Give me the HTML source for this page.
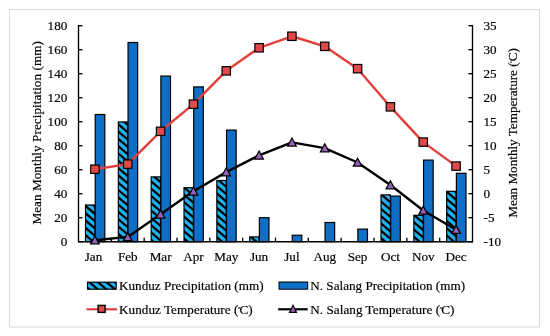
<!DOCTYPE html>
<html><head><meta charset="utf-8"><title>Chart</title>
<style>
html,body{margin:0;padding:0;background:#fff;}
svg{display:block;}
text{stroke:#000;stroke-width:0.18px;font-family:"Liberation Serif","Times New Roman",serif;font-size:13.15px;fill:#000;}
</style></head><body>
<svg width="550" height="336" viewBox="0 0 550 336">
<defs><clipPath id="kclip">
<rect x="85.52" y="204.98" width="9.40" height="36.72"/>
<rect x="118.35" y="121.94" width="9.40" height="119.76"/>
<rect x="151.18" y="176.90" width="9.40" height="64.80"/>
<rect x="184.02" y="187.70" width="9.40" height="54.00"/>
<rect x="216.85" y="180.50" width="9.40" height="61.20"/>
<rect x="249.68" y="236.90" width="9.40" height="4.80"/>
<rect x="381.02" y="194.90" width="9.40" height="46.80"/>
<rect x="413.85" y="215.30" width="9.40" height="26.40"/>
<rect x="446.68" y="191.30" width="9.40" height="50.40"/>
<rect x="87.50" y="282.20" width="28.70" height="7.00"/>
</clipPath></defs>
<rect x="0" y="0" width="550" height="336" fill="#fff"/>
<rect x="9.5" y="9.5" width="530" height="317.5" fill="#fff" stroke="#d9d9d9" stroke-width="1"/>
<rect x="85.52" y="204.98" width="9.40" height="36.72" fill="#1fb0f0"/>
<rect x="118.35" y="121.94" width="9.40" height="119.76" fill="#1fb0f0"/>
<rect x="151.18" y="176.90" width="9.40" height="64.80" fill="#1fb0f0"/>
<rect x="184.02" y="187.70" width="9.40" height="54.00" fill="#1fb0f0"/>
<rect x="216.85" y="180.50" width="9.40" height="61.20" fill="#1fb0f0"/>
<rect x="249.68" y="236.90" width="9.40" height="4.80" fill="#1fb0f0"/>
<rect x="381.02" y="194.90" width="9.40" height="46.80" fill="#1fb0f0"/>
<rect x="413.85" y="215.30" width="9.40" height="26.40" fill="#1fb0f0"/>
<rect x="446.68" y="191.30" width="9.40" height="50.40" fill="#1fb0f0"/>
<rect x="87.50" y="282.20" width="28.70" height="7.00" fill="#1fb0f0"/>
<path clip-path="url(#kclip)" d="M70 -427.80L480 -79.30M70 -420.50L480 -72.00M70 -413.20L480 -64.70M70 -405.90L480 -57.40M70 -398.60L480 -50.10M70 -391.30L480 -42.80M70 -384.00L480 -35.50M70 -376.70L480 -28.20M70 -369.40L480 -20.90M70 -362.10L480 -13.60M70 -354.80L480 -6.30M70 -347.50L480 1.00M70 -340.20L480 8.30M70 -332.90L480 15.60M70 -325.60L480 22.90M70 -318.30L480 30.20M70 -311.00L480 37.50M70 -303.70L480 44.80M70 -296.40L480 52.10M70 -289.10L480 59.40M70 -281.80L480 66.70M70 -274.50L480 74.00M70 -267.20L480 81.30M70 -259.90L480 88.60M70 -252.60L480 95.90M70 -245.30L480 103.20M70 -238.00L480 110.50M70 -230.70L480 117.80M70 -223.40L480 125.10M70 -216.10L480 132.40M70 -208.80L480 139.70M70 -201.50L480 147.00M70 -194.20L480 154.30M70 -186.90L480 161.60M70 -179.60L480 168.90M70 -172.30L480 176.20M70 -165.00L480 183.50M70 -157.70L480 190.80M70 -150.40L480 198.10M70 -143.10L480 205.40M70 -135.80L480 212.70M70 -128.50L480 220.00M70 -121.20L480 227.30M70 -113.90L480 234.60M70 -106.60L480 241.90M70 -99.30L480 249.20M70 -92.00L480 256.50M70 -84.70L480 263.80M70 -77.40L480 271.10M70 -70.10L480 278.40M70 -62.80L480 285.70M70 -55.50L480 293.00M70 -48.20L480 300.30M70 -40.90L480 307.60M70 -33.60L480 314.90M70 -26.30L480 322.20M70 -19.00L480 329.50M70 -11.70L480 336.80M70 -4.40L480 344.10M70 2.90L480 351.40M70 10.20L480 358.70M70 17.50L480 366.00M70 24.80L480 373.30M70 32.10L480 380.60M70 39.40L480 387.90M70 46.70L480 395.20M70 54.00L480 402.50M70 61.30L480 409.80M70 68.60L480 417.10M70 75.90L480 424.40M70 83.20L480 431.70M70 90.50L480 439.00M70 97.80L480 446.30M70 105.10L480 453.60M70 112.40L480 460.90M70 119.70L480 468.20M70 127.00L480 475.50M70 134.30L480 482.80M70 141.60L480 490.10M70 148.90L480 497.40M70 156.20L480 504.70M70 163.50L480 512.00M70 170.80L480 519.30M70 178.10L480 526.60M70 185.40L480 533.90M70 192.70L480 541.20M70 200.00L480 548.50M70 207.30L480 555.80M70 214.60L480 563.10M70 221.90L480 570.40M70 229.20L480 577.70M70 236.50L480 585.00M70 243.80L480 592.30M70 251.10L480 599.60M70 258.40L480 606.90M70 265.70L480 614.20M70 273.00L480 621.50M70 280.30L480 628.80M70 287.60L480 636.10M70 294.90L480 643.40M70 302.20L480 650.70M70 309.50L480 658.00M70 316.80L480 665.30M70 324.10L480 672.60M70 331.40L480 679.90M70 338.70L480 687.20M70 346.00L480 694.50M70 353.30L480 701.80M70 360.60L480 709.10M70 367.90L480 716.40M70 375.20L480 723.70M70 382.50L480 731.00M70 389.80L480 738.30M70 397.10L480 745.60M70 404.40L480 752.90M70 411.70L480 760.20M70 419.00L480 767.50M70 426.30L480 774.80M70 433.60L480 782.10M70 440.90L480 789.40" stroke="#000" stroke-width="2.2" fill="none"/>
<rect x="85.52" y="204.98" width="9.40" height="36.72" fill="none" stroke="#000" stroke-width="1.2"/>
<rect x="118.35" y="121.94" width="9.40" height="119.76" fill="none" stroke="#000" stroke-width="1.2"/>
<rect x="151.18" y="176.90" width="9.40" height="64.80" fill="none" stroke="#000" stroke-width="1.2"/>
<rect x="184.02" y="187.70" width="9.40" height="54.00" fill="none" stroke="#000" stroke-width="1.2"/>
<rect x="216.85" y="180.50" width="9.40" height="61.20" fill="none" stroke="#000" stroke-width="1.2"/>
<rect x="249.68" y="236.90" width="9.40" height="4.80" fill="none" stroke="#000" stroke-width="1.2"/>
<rect x="381.02" y="194.90" width="9.40" height="46.80" fill="none" stroke="#000" stroke-width="1.2"/>
<rect x="413.85" y="215.30" width="9.40" height="26.40" fill="none" stroke="#000" stroke-width="1.2"/>
<rect x="446.68" y="191.30" width="9.40" height="50.40" fill="none" stroke="#000" stroke-width="1.2"/>
<rect x="87.50" y="282.20" width="28.70" height="7.00" fill="none" stroke="#000" stroke-width="1.2"/>
<rect x="95.22" y="114.50" width="9.60" height="127.20" fill="#0f6fc6" stroke="#000" stroke-width="1.2"/>
<rect x="128.05" y="42.50" width="9.60" height="199.20" fill="#0f6fc6" stroke="#000" stroke-width="1.2"/>
<rect x="160.88" y="76.10" width="9.60" height="165.60" fill="#0f6fc6" stroke="#000" stroke-width="1.2"/>
<rect x="193.72" y="86.90" width="9.60" height="154.80" fill="#0f6fc6" stroke="#000" stroke-width="1.2"/>
<rect x="226.55" y="130.10" width="9.60" height="111.60" fill="#0f6fc6" stroke="#000" stroke-width="1.2"/>
<rect x="259.38" y="217.70" width="9.60" height="24.00" fill="#0f6fc6" stroke="#000" stroke-width="1.2"/>
<rect x="292.22" y="235.22" width="9.60" height="6.48" fill="#0f6fc6" stroke="#000" stroke-width="1.2"/>
<rect x="325.05" y="222.50" width="9.60" height="19.20" fill="#0f6fc6" stroke="#000" stroke-width="1.2"/>
<rect x="357.88" y="229.10" width="9.60" height="12.60" fill="#0f6fc6" stroke="#000" stroke-width="1.2"/>
<rect x="390.72" y="196.10" width="9.60" height="45.60" fill="#0f6fc6" stroke="#000" stroke-width="1.2"/>
<rect x="423.55" y="160.10" width="9.60" height="81.60" fill="#0f6fc6" stroke="#000" stroke-width="1.2"/>
<rect x="456.38" y="173.30" width="9.60" height="68.40" fill="#0f6fc6" stroke="#000" stroke-width="1.2"/>
<g stroke="#000" stroke-width="1.35" fill="none">
<path d="M78.5 25.0 V241.7 H472.5 V25.0"/>
<path d="M78.5 241.7 h4"/>
<path d="M472.5 241.7 h-4"/>
<path d="M78.5 217.7 h4"/>
<path d="M472.5 217.7 h-4"/>
<path d="M78.5 193.7 h4"/>
<path d="M472.5 193.7 h-4"/>
<path d="M78.5 169.7 h4"/>
<path d="M472.5 169.7 h-4"/>
<path d="M78.5 145.7 h4"/>
<path d="M472.5 145.7 h-4"/>
<path d="M78.5 121.69999999999999 h4"/>
<path d="M472.5 121.69999999999999 h-4"/>
<path d="M78.5 97.69999999999999 h4"/>
<path d="M472.5 97.69999999999999 h-4"/>
<path d="M78.5 73.69999999999999 h4"/>
<path d="M472.5 73.69999999999999 h-4"/>
<path d="M78.5 49.69999999999999 h4"/>
<path d="M472.5 49.69999999999999 h-4"/>
<path d="M78.5 25.69999999999999 h4"/>
<path d="M472.5 25.69999999999999 h-4"/>
<path d="M111.33 241.7 v-4"/>
<path d="M144.17 241.7 v-4"/>
<path d="M177.00 241.7 v-4"/>
<path d="M209.83 241.7 v-4"/>
<path d="M242.67 241.7 v-4"/>
<path d="M275.50 241.7 v-4"/>
<path d="M308.33 241.7 v-4"/>
<path d="M341.17 241.7 v-4"/>
<path d="M374.00 241.7 v-4"/>
<path d="M406.83 241.7 v-4"/>
<path d="M439.67 241.7 v-4"/>
</g>
<text x="67.3" y="246.1" text-anchor="end">0</text>
<text x="483.5" y="246.1">-10</text>
<text x="67.3" y="222.1" text-anchor="end">20</text>
<text x="483.5" y="222.1">-5</text>
<text x="67.3" y="198.1" text-anchor="end">40</text>
<text x="483.5" y="198.1">0</text>
<text x="67.3" y="174.1" text-anchor="end">60</text>
<text x="483.5" y="174.1">5</text>
<text x="67.3" y="150.1" text-anchor="end">80</text>
<text x="483.5" y="150.1">10</text>
<text x="67.3" y="126.1" text-anchor="end">100</text>
<text x="483.5" y="126.1">15</text>
<text x="67.3" y="102.1" text-anchor="end">120</text>
<text x="483.5" y="102.1">20</text>
<text x="67.3" y="78.1" text-anchor="end">140</text>
<text x="483.5" y="78.1">25</text>
<text x="67.3" y="54.09999999999999" text-anchor="end">160</text>
<text x="483.5" y="54.09999999999999">30</text>
<text x="67.3" y="30.099999999999987" text-anchor="end">180</text>
<text x="483.5" y="30.099999999999987">35</text>
<text x="93.52" y="261.2" text-anchor="middle">Jan</text>
<text x="127.75" y="261.2" text-anchor="middle">Feb</text>
<text x="160.58" y="261.2" text-anchor="middle">Mar</text>
<text x="193.42" y="261.2" text-anchor="middle">Apr</text>
<text x="226.25" y="261.2" text-anchor="middle">May</text>
<text x="259.08" y="261.2" text-anchor="middle">Jun</text>
<text x="291.92" y="261.2" text-anchor="middle">Jul</text>
<text x="324.75" y="261.2" text-anchor="middle">Aug</text>
<text x="357.58" y="261.2" text-anchor="middle">Sep</text>
<text x="390.42" y="261.2" text-anchor="middle">Oct</text>
<text x="423.25" y="261.2" text-anchor="middle">Nov</text>
<text x="456.08" y="261.2" text-anchor="middle">Dec</text>
<polyline points="94.92,169.22 127.75,164.18 160.58,131.30 193.42,104.18 226.25,70.82 259.08,47.78 291.92,36.26 324.75,46.34 357.58,68.66 390.42,106.82 423.25,142.10 456.08,166.10" fill="none" stroke="#e0403c" stroke-width="2.4" stroke-linejoin="round"/>
<polyline points="94.92,240.26 127.75,236.90 160.58,214.34 193.42,191.30 226.25,172.10 259.08,155.30 291.92,142.34 324.75,148.10 357.58,162.50 390.42,185.06 423.25,210.50 456.08,229.70" fill="none" stroke="#000" stroke-width="2.4" stroke-linejoin="round"/>
<rect x="90.72" y="165.02" width="8.4" height="8.4" fill="#e0484a" stroke="#000" stroke-width="1.2"/>
<rect x="123.55" y="159.98" width="8.4" height="8.4" fill="#e0484a" stroke="#000" stroke-width="1.2"/>
<rect x="156.38" y="127.10" width="8.4" height="8.4" fill="#e0484a" stroke="#000" stroke-width="1.2"/>
<rect x="189.22" y="99.98" width="8.4" height="8.4" fill="#e0484a" stroke="#000" stroke-width="1.2"/>
<rect x="222.05" y="66.62" width="8.4" height="8.4" fill="#e0484a" stroke="#000" stroke-width="1.2"/>
<rect x="254.88" y="43.58" width="8.4" height="8.4" fill="#e0484a" stroke="#000" stroke-width="1.2"/>
<rect x="287.72" y="32.06" width="8.4" height="8.4" fill="#e0484a" stroke="#000" stroke-width="1.2"/>
<rect x="320.55" y="42.14" width="8.4" height="8.4" fill="#e0484a" stroke="#000" stroke-width="1.2"/>
<rect x="353.38" y="64.46" width="8.4" height="8.4" fill="#e0484a" stroke="#000" stroke-width="1.2"/>
<rect x="386.22" y="102.62" width="8.4" height="8.4" fill="#e0484a" stroke="#000" stroke-width="1.2"/>
<rect x="419.05" y="137.90" width="8.4" height="8.4" fill="#e0484a" stroke="#000" stroke-width="1.2"/>
<rect x="451.88" y="161.90" width="8.4" height="8.4" fill="#e0484a" stroke="#000" stroke-width="1.2"/>
<path d="M94.92 235.96 L99.22 243.96 L90.62 243.96 Z" fill="#9660be" stroke="#000" stroke-width="1.25"/>
<path d="M127.75 232.60 L132.05 240.60 L123.45 240.60 Z" fill="#9660be" stroke="#000" stroke-width="1.25"/>
<path d="M160.58 210.04 L164.88 218.04 L156.28 218.04 Z" fill="#9660be" stroke="#000" stroke-width="1.25"/>
<path d="M193.42 187.00 L197.72 195.00 L189.12 195.00 Z" fill="#9660be" stroke="#000" stroke-width="1.25"/>
<path d="M226.25 167.80 L230.55 175.80 L221.95 175.80 Z" fill="#9660be" stroke="#000" stroke-width="1.25"/>
<path d="M259.08 151.00 L263.38 159.00 L254.78 159.00 Z" fill="#9660be" stroke="#000" stroke-width="1.25"/>
<path d="M291.92 138.04 L296.22 146.04 L287.62 146.04 Z" fill="#9660be" stroke="#000" stroke-width="1.25"/>
<path d="M324.75 143.80 L329.05 151.80 L320.45 151.80 Z" fill="#9660be" stroke="#000" stroke-width="1.25"/>
<path d="M357.58 158.20 L361.88 166.20 L353.28 166.20 Z" fill="#9660be" stroke="#000" stroke-width="1.25"/>
<path d="M390.42 180.76 L394.72 188.76 L386.12 188.76 Z" fill="#9660be" stroke="#000" stroke-width="1.25"/>
<path d="M423.25 206.20 L427.55 214.20 L418.95 214.20 Z" fill="#9660be" stroke="#000" stroke-width="1.25"/>
<path d="M456.08 225.40 L460.38 233.40 L451.78 233.40 Z" fill="#9660be" stroke="#000" stroke-width="1.25"/>
<text transform="translate(40.6,132.8) rotate(-90)" text-anchor="middle" letter-spacing="0.07">Mean Monthly Precipitation (mm)</text>
<text transform="translate(516.9,133) rotate(-90)" text-anchor="middle">Mean Monthly Temperature (<tspan font-size="4.5px" dy="-4.8" dx="-0.3" stroke-width="0.1">o</tspan><tspan dy="4.8" dx="-0.9">C)</tspan></text>
<text x="119" y="290">Kunduz Precipitation (mm)</text>
<rect x="279" y="282" width="28.7" height="7.2" fill="#0f6fc6" stroke="#000" stroke-width="1"/>
<text x="310.3" y="290">N. Salang Precipitation (mm)</text>
<path d="M86.5 309.3 H117" stroke="#e0403c" stroke-width="2.2"/>
<rect x="98.1" y="305.4" width="7" height="7" fill="#e0484a" stroke="#000" stroke-width="1.4"/>
<text x="119" y="313.5" letter-spacing="0.045">Kunduz Temperature (<tspan font-size="4.5px" dy="-4.8" dx="-0.3" stroke-width="0.1">o</tspan><tspan dy="4.8" dx="-0.9">C)</tspan></text>
<path d="M278.2 309.3 H307.7" stroke="#000" stroke-width="2.2"/>
<path d="M293 305.3 L296.5 312.4 L289.5 312.4 Z" fill="#9660be" stroke="#000" stroke-width="1.2"/>
<text x="310.3" y="313.5" letter-spacing="0.045">N. Salang Temperature (<tspan font-size="4.5px" dy="-4.8" dx="-0.3" stroke-width="0.1">o</tspan><tspan dy="4.8" dx="-0.9">C)</tspan></text>
</svg></body></html>
